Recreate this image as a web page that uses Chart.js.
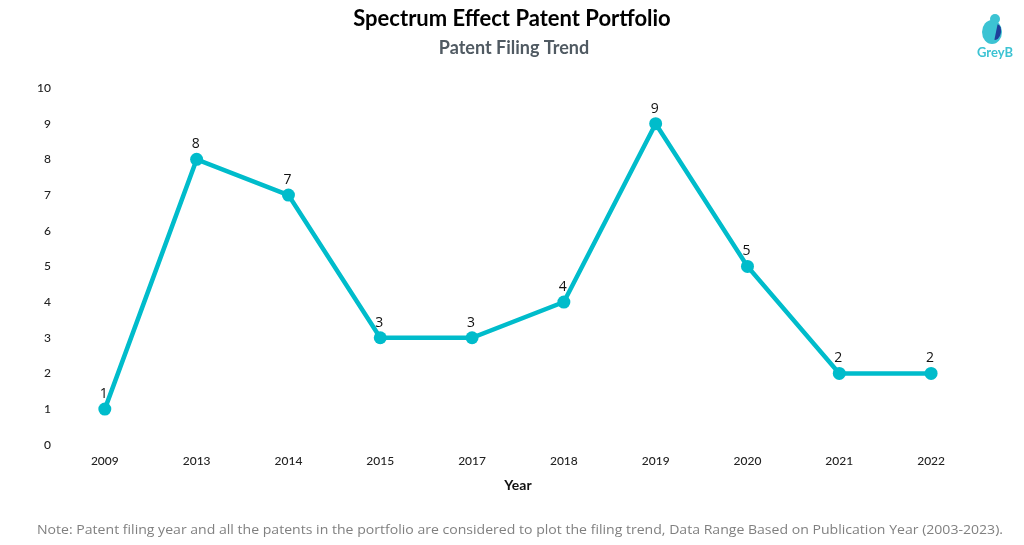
<!DOCTYPE html>
<html>
<head>
<meta charset="utf-8">
<script src="https://cdn.jsdelivr.net/npm/chart.js@4.4.1/dist/chart.umd.min.js"></script>
<style>
  html, body { margin: 0; padding: 0; background: #fff; }
  #wrap { width: 1024px; height: 545px; position: relative; }
</style>
</head>
<body>
<div id="wrap"><canvas id="trendChart" width="1024" height="545"></canvas></div>
<script>
// data
const years = ['2009', '2013', '2014', '2015', '2017', '2018', '2019', '2020', '2021', '2022'];
const patentCounts = [1, 8, 7, 3, 3, 4, 9, 5, 2, 2];
const yTicks = [0, 1, 2, 3, 4, 5, 6, 7, 8, 9, 10];

const titleText = 'Spectrum Effect Patent Portfolio';
const subtitleText = 'Patent Filing Trend';
const noteText = 'Note: Patent filing year and all the patents in the portfolio are considered to plot the filing trend, Data Range Based on Publication Year (2003-2023).';

const lineColor = '#00BCCB';

// titles, note, logo
const decorPlugin = {
  id: 'decor',
  afterDraw(chart) {
    const ctx = chart.ctx;
    ctx.save();
    ctx.textAlign = 'center';
    ctx.textBaseline = 'middle';

    ctx.fillStyle = '#000';
    ctx.font = 'bold 22px Lato';
    ctx.fillText(titleText, 512, 19);

    ctx.fillStyle = '#505a62';
    ctx.font = 'bold 18px Lato';
    ctx.fillText(subtitleText, 514, 48);

    ctx.fillStyle = '#808080';
    ctx.font = '13px "Open Sans"';
    const w = ctx.measureText(noteText).width;
    ctx.save();
    ctx.translate(520, 530);
    ctx.scale(966 / w, 1);
    ctx.fillText(noteText, 0, 0);
    ctx.restore();

    // GreyB logo
    ctx.fillStyle = '#3cc3d3';
    ctx.beginPath();
    ctx.ellipse(992, 32, 10, 12, 0, 0, Math.PI * 2);
    ctx.fill();
    ctx.beginPath();
    ctx.arc(995, 19, 5, 0, Math.PI * 2);
    ctx.fill();
    ctx.fillStyle = '#1f3f9a';
    ctx.beginPath();
    ctx.ellipse(996, 32, 5, 8, 0.2, -Math.PI * 0.5, Math.PI * 0.5);
    ctx.fill();
    ctx.fillStyle = '#3cc3d3';
    ctx.font = 'bold 13px Lato';
    ctx.fillText('GreyB', 995, 53);
    ctx.restore();
  }
};

// value labels over the points
const pointLabelPlugin = {
  id: 'pointLabels',
  afterDatasetsDraw(chart) {
    const ctx = chart.ctx;
    const meta = chart.getDatasetMeta(0);
    ctx.save();
    ctx.fillStyle = '#111';
    ctx.font = '14px "Open Sans"';
    ctx.textAlign = 'center';
    ctx.textBaseline = 'bottom';
    meta.data.forEach((pt, i) => {
      ctx.fillText(String(patentCounts[i]), pt.x - 1, pt.y - 8);
    });
    ctx.restore();
  }
};

new Chart(document.getElementById('trendChart'), {
  type: 'line',
  data: {
    labels: years,
    datasets: [{
      label: 'Patents',
      data: patentCounts,
      borderColor: lineColor,
      backgroundColor: lineColor,
      borderWidth: 4.5,
      pointRadius: 6.5,
      pointHoverRadius: 6.5,
      pointBackgroundColor: lineColor,
      pointBorderWidth: 0,
      tension: 0,
    }],
  },
  options: {
    responsive: false,
    animation: false,
    layout: {
      padding: { top: 88, right: 47, bottom: 47, left: 29 },
    },
    plugins: {
      legend: { display: false },
      tooltip: { enabled: false },
      title: { display: false },
    },
    scales: {
      x: {
        offset: true,
        grid: { display: false, drawTicks: false },
        border: { display: false },
        ticks: {
          color: '#222',
          font: { family: 'Lato', size: 12, weight: '500' },
          padding: 9,
          maxRotation: 0,
        },
        title: {
          display: true,
          text: 'Year',
          color: '#111',
          font: { family: 'Lato', size: 14, weight: 'bold' },
          padding: { top: 0 },
        },
      },
      y: {
        min: 0,
        max: 10,
        afterBuildTicks(scale) {
          scale.ticks = yTicks.map(v => ({ value: v }));
        },
        grid: { display: false, drawTicks: false },
        border: { display: false },
        ticks: {
          color: '#222',
          font: { family: 'Lato', size: 12, weight: '500' },
          padding: 8,
        },
      },
    },
  },
  plugins: [decorPlugin, pointLabelPlugin],
});
</script>
</body>
</html>
